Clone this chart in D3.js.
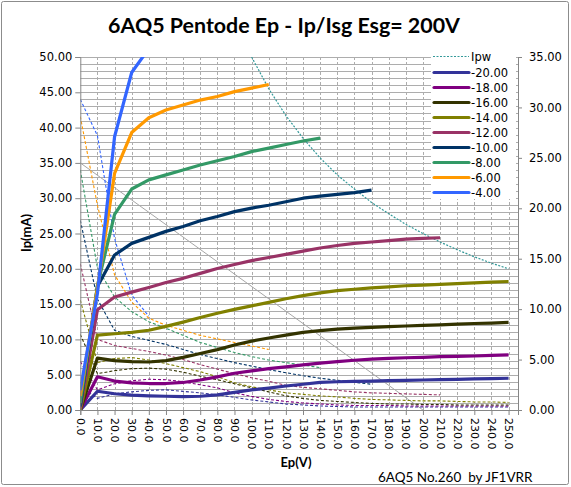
<!DOCTYPE html>
<html lang="en">
<head>
<meta charset="UTF-8">
<style>
  body { margin: 0; background: #fff; }
  text { font-family: "DejaVu Sans", sans-serif; }
</style>
</head>
<body>
<script src="https://d3js.org/d3.v7.min.js"></script>
<script>
// plate voltage categories (V)
var ep = [0, 10, 20, 30, 40, 50, 60, 70, 80, 90, 100, 110, 120, 130, 140, 150, 160, 170, 180, 190, 200, 210, 220, 230, 240, 250]
var gridV = ['-20.00', '-18.00', '-16.00', '-14.00', '-12.00', '-10.00', '-8.00', '-6.00', '-4.00']
var ipTicks = [0, 5, 10, 15, 20, 25, 30, 35, 40, 45, 50]
var isgTicks = [0, 5, 10, 15, 20, 25, 30, 35]

// plate current Ip (mA), one array per grid voltage, starting at Ep = 0
var ip_m20 = [0, 2.65, 2.3, 2.1, 2.0, 1.95, 1.9, 1.95, 2.15, 2.5, 2.85, 3.1, 3.4, 3.65, 3.9, 4.0, 4.05, 4.1, 4.15, 4.2, 4.25, 4.3, 4.35, 4.4, 4.45, 4.5]
var ip_m18 = [0, 4.7, 4.1, 3.85, 3.75, 3.75, 3.9, 4.25, 4.7, 5.2, 5.55, 5.85, 6.1, 6.4, 6.65, 6.85, 7.05, 7.2, 7.3, 7.4, 7.45, 7.55, 7.6, 7.65, 7.75, 7.8]
var ip_m16 = [0, 7.35, 7.0, 6.85, 6.8, 7.0, 7.45, 8.0, 8.55, 9.2, 9.75, 10.2, 10.6, 11.0, 11.25, 11.45, 11.6, 11.7, 11.8, 11.9, 12.0, 12.05, 12.15, 12.25, 12.3, 12.4]
var ip_m14 = [0, 10.6, 10.8, 11.0, 11.3, 11.85, 12.45, 13.1, 13.7, 14.25, 14.75, 15.25, 15.75, 16.2, 16.6, 16.9, 17.1, 17.3, 17.45, 17.6, 17.7, 17.8, 17.9, 18.0, 18.1, 18.2]
var ip_m12 = [0.2, 14.2, 16.0, 16.7, 17.35, 18.05, 18.65, 19.35, 20.05, 20.6, 21.15, 21.6, 22.05, 22.5, 22.95, 23.3, 23.6, 23.8, 24.0, 24.2, 24.3, 24.4]
var ip_m10 = [0.5, 17.5, 21.95, 23.6, 24.45, 25.3, 26.0, 26.8, 27.4, 28.1, 28.6, 29.0, 29.5, 30.0, 30.3, 30.55, 30.8, 31.15]
var ip_m8 = [1.0, 17.6, 27.7, 31.3, 32.6, 33.3, 34.0, 34.7, 35.3, 35.9, 36.6, 37.1, 37.6, 38.1, 38.5]
var ip_m6 = [2.0, 17.2, 33.5, 39.3, 41.4, 42.5, 43.2, 43.9, 44.4, 45.1, 45.6, 46.1]
var ip_m4 = [2.8, 16.5, 38.7, 47.8, 51.2]

// screen current Isg (mA, right axis)
var isg_m20 = [2.3, 1.15, 1.6, 1.8, 1.95, 2.0, 1.85, 1.7, 1.5, 1.25, 1.0, 0.8, 0.6, 0.5, 0.4, 0.35, 0.3, 0.3, 0.3, 0.3, 0.3, 0.3, 0.3, 0.3, 0.3, 0.3]
var isg_m18 = [4.8, 2.0, 2.6, 2.9, 3.05, 3.0, 2.8, 2.5, 2.2, 1.7, 1.35, 1.05, 0.85, 0.7, 0.6, 0.5, 0.45, 0.45, 0.45, 0.4, 0.4, 0.4, 0.4, 0.4, 0.4, 0.4]
var isg_m16 = [7.5, 3.6, 3.9, 4.1, 4.15, 4.05, 3.75, 3.35, 3.0, 2.6, 2.2, 1.8, 1.4, 1.15, 0.95, 0.85, 0.75, 0.65, 0.6, 0.6, 0.55, 0.55, 0.5, 0.5, 0.5, 0.5]
var isg_m14 = [10.9, 4.7, 5.1, 5.2, 4.95, 4.6, 4.2, 3.8, 3.3, 2.7, 2.3, 2.0, 1.7, 1.55, 1.4, 1.3, 1.15, 1.05, 1.0, 0.95, 0.9, 0.9, 0.85, 0.8, 0.8, 0.75]
var isg_m12 = [14.5, 7.0, 6.4, 6.1, 5.8, 5.45, 5.0, 4.5, 4.05, 3.6, 3.2, 2.85, 2.45, 2.25, 2.1, 1.95, 1.8, 1.7, 1.65, 1.6, 1.55, 1.5]
var isg_m10 = [18.8, 11.0, 7.9, 7.3, 6.9, 6.5, 6.0, 5.5, 5.1, 4.7, 4.35, 4.0, 3.7, 3.4, 3.15, 2.95, 2.75, 2.55]
var isg_m8 = [23.8, 14.1, 11.2, 9.75, 8.75, 8.1, 7.4, 6.7, 6.2, 5.7, 5.3, 4.95, 4.7, 4.45, 4.2]
var isg_m6 = [29.1, 20.3, 13.4, 10.7, 9.1, 8.4, 7.9, 7.4, 7.05, 6.7, 6.35, 6.0]
var isg_m4 = [30.8, 27.2, 17.0, 11.4, 9.3]

// plate dissipation curve Ipw (mA), from Ep = 100
var ipwEp = [100, 110, 120, 130, 140, 150, 160, 170, 180, 190, 200, 210, 220, 230, 240, 250]
var ipw = [50.0, 45.5, 41.7, 38.5, 35.7, 33.3, 31.3, 29.4, 27.8, 26.3, 25.0, 23.8, 22.7, 21.7, 20.8, 20.0]

// load line
var loadEp = [0, 200]
var loadIp = [35, 0]

var ipData = [ip_m20, ip_m18, ip_m16, ip_m14, ip_m12, ip_m10, ip_m8, ip_m6, ip_m4]
var isgData = [isg_m20, isg_m18, isg_m16, isg_m14, isg_m12, isg_m10, isg_m8, isg_m6, isg_m4]
var colors = ['#333399', '#800080', '#333300', '#808000', '#993366', '#003366', '#339966', '#ff9900', '#3366ff']

var W = 571, H = 487
var pL = 80.3, pR = 518, pT = 57, pB = 410

var svg = d3.select('body').append('svg')
    .attr('width', W)
    .attr('height', H)

svg.append('rect')
    .attr('x', 1.5).attr('y', 1.5)
    .attr('width', 567).attr('height', 483)
    .attr('rx', 2)
    .attr('fill', '#fff')
    .attr('stroke', '#8c8c8c')

var x = d3.scaleLinear().domain([0, 255.5]).range([pL, pR])
var y = d3.scaleLinear().domain([0, 50]).range([pB, pT])
var y2 = d3.scaleLinear().domain([0, 35]).range([pB, pT])

// grid
var grid = svg.append('g')
grid.selectAll('.hg').data(d3.range(1, 51))
    .enter().append('line')
    .attr('x1', pL).attr('x2', pR)
    .attr('y1', d => Math.round(y(d)) + 0.5).attr('y2', d => Math.round(y(d)) + 0.5)
    .attr('stroke', '#adadad')
grid.selectAll('.vg').data(ep.slice(1))
    .enter().append('line')
    .attr('x1', d => Math.round(x(d)) + 0.5).attr('x2', d => Math.round(x(d)) + 0.5)
    .attr('y1', pT).attr('y2', pB)
    .attr('stroke', '#adadad')
    .attr('stroke-dasharray', '3,2')

svg.append('clipPath').attr('id', 'plot')
    .append('rect')
    .attr('x', pL).attr('y', pT)
    .attr('width', pR - pL).attr('height', pB - pT)

var plot = svg.append('g').attr('clip-path', 'url(#plot)')

var lineIp = d3.line().x((d, i) => x(ep[i])).y(d => y(d))
var lineIsg = d3.line().x((d, i) => x(ep[i])).y(d => y2(d))

plot.append('path')
    .attr('d', d3.line()(loadEp.map((d, i) => [x(d), y(loadIp[i])])))
    .attr('fill', 'none')
    .attr('stroke', '#a6a6a6')
    .attr('stroke-width', 1)

plot.append('path')
    .attr('d', d3.line()(ipwEp.map((d, i) => [x(d), y(ipw[i])])))
    .attr('fill', 'none')
    .attr('stroke', '#339999')
    .attr('stroke-width', 1.2)
    .attr('stroke-dasharray', '2,1.5')

isgData.forEach(function (s, k) {
    plot.append('path')
        .attr('d', lineIsg(s))
        .attr('fill', 'none')
        .attr('stroke', colors[k])
        .attr('stroke-width', 1.1)
        .attr('stroke-dasharray', '3,2')
})

ipData.forEach(function (s, k) {
    plot.append('path')
        .attr('d', lineIp(s))
        .attr('fill', 'none')
        .attr('stroke', colors[k])
        .attr('stroke-width', 3.2)
        .attr('stroke-linejoin', 'round')
})

// axes
var axisColor = '#868686'
var gl = svg.append('g').attr('transform', 'translate(' + pL + ',0)')
    .call(d3.axisLeft(y).tickValues(ipTicks).tickFormat(d3.format('.2f')).tickSize(5).tickPadding(3))
var gr = svg.append('g').attr('transform', 'translate(' + pR + ',0)')
    .call(d3.axisRight(y2).tickValues(isgTicks).tickFormat(d3.format('.2f')).tickSize(4).tickPadding(7))
var gb = svg.append('g').attr('transform', 'translate(0,' + pB + ')')
    .call(d3.axisBottom(x).tickValues(ep).tickFormat(d3.format('.1f')).tickSize(5))

;[gl, gr, gb].forEach(function (g) {
    g.select('.domain').attr('stroke', axisColor)
    g.selectAll('.tick line').attr('stroke', axisColor)
    g.selectAll('text').attr('fill', '#000').style('font-family', '"DejaVu Sans", sans-serif').style('font-size', '11.5px')
})
gb.selectAll('text')
    .style('font-size', '11px')
    .attr('transform', 'rotate(90)')
    .attr('x', 8).attr('y', 0)
    .attr('dy', '0.35em')
    .attr('text-anchor', 'start')

// legend
var lg = svg.append('g')
lg.append('rect')
    .attr('x', 431).attr('y', 49)
    .attr('width', 85).attr('height', 150)
    .attr('fill', '#fff')
lg.append('line')
    .attr('x1', 433).attr('x2', 469).attr('y1', 56.5).attr('y2', 56.5)
    .attr('stroke', '#339999').attr('stroke-width', 1.2).attr('stroke-dasharray', '2,1.5')
lg.append('text').attr('x', 471).attr('y', 56.5).attr('dy', '0.35em')
    .style('font-size', '11.5px').text('Ipw')
gridV.forEach(function (g, k) {
    var yy = 72.5 + k * 15
    lg.append('line')
        .attr('x1', 434).attr('x2', 469).attr('y1', yy).attr('y2', yy)
        .attr('stroke', colors[k]).attr('stroke-width', 3.2)
        .attr('stroke-linecap', 'round')
    lg.append('text').attr('x', 471).attr('y', yy).attr('dy', '0.35em')
        .style('font-size', '11.5px').text(g)
})

// titles
var title = svg.append('text')
    .attr('x', 284).attr('y', 33)
    .attr('text-anchor', 'middle')
    .style('font-family', 'Lato, sans-serif')
    .style('font-weight', 'bold')
    .style('font-size', '20px')
    .text('6AQ5 Pentode Ep - Ip/Isg Esg= 200V')
var tw = title.node().getComputedTextLength()
title.style('font-size', (20 * 352 / tw).toFixed(2) + 'px')

svg.append('text')
    .attr('transform', 'translate(31,233) rotate(-90)')
    .attr('text-anchor', 'middle')
    .style('font-family', 'Lato, sans-serif')
    .style('font-weight', 'bold')
    .style('font-size', '13px')
    .text('Ip(mA)')

svg.append('text')
    .attr('x', 296).attr('y', 467)
    .attr('text-anchor', 'middle')
    .style('font-family', 'Lato, sans-serif')
    .style('font-weight', 'bold')
    .style('font-size', '13px')
    .text('Ep(V)')

svg.append('text')
    .attr('x', 378).attr('y', 482)
    .style('font-family', 'Lato, sans-serif')
    .style('font-size', '13.5px')
    .style('white-space', 'pre')
    .text('6AQ5 No.260  by JF1VRR')
</script>
</body>
</html>
